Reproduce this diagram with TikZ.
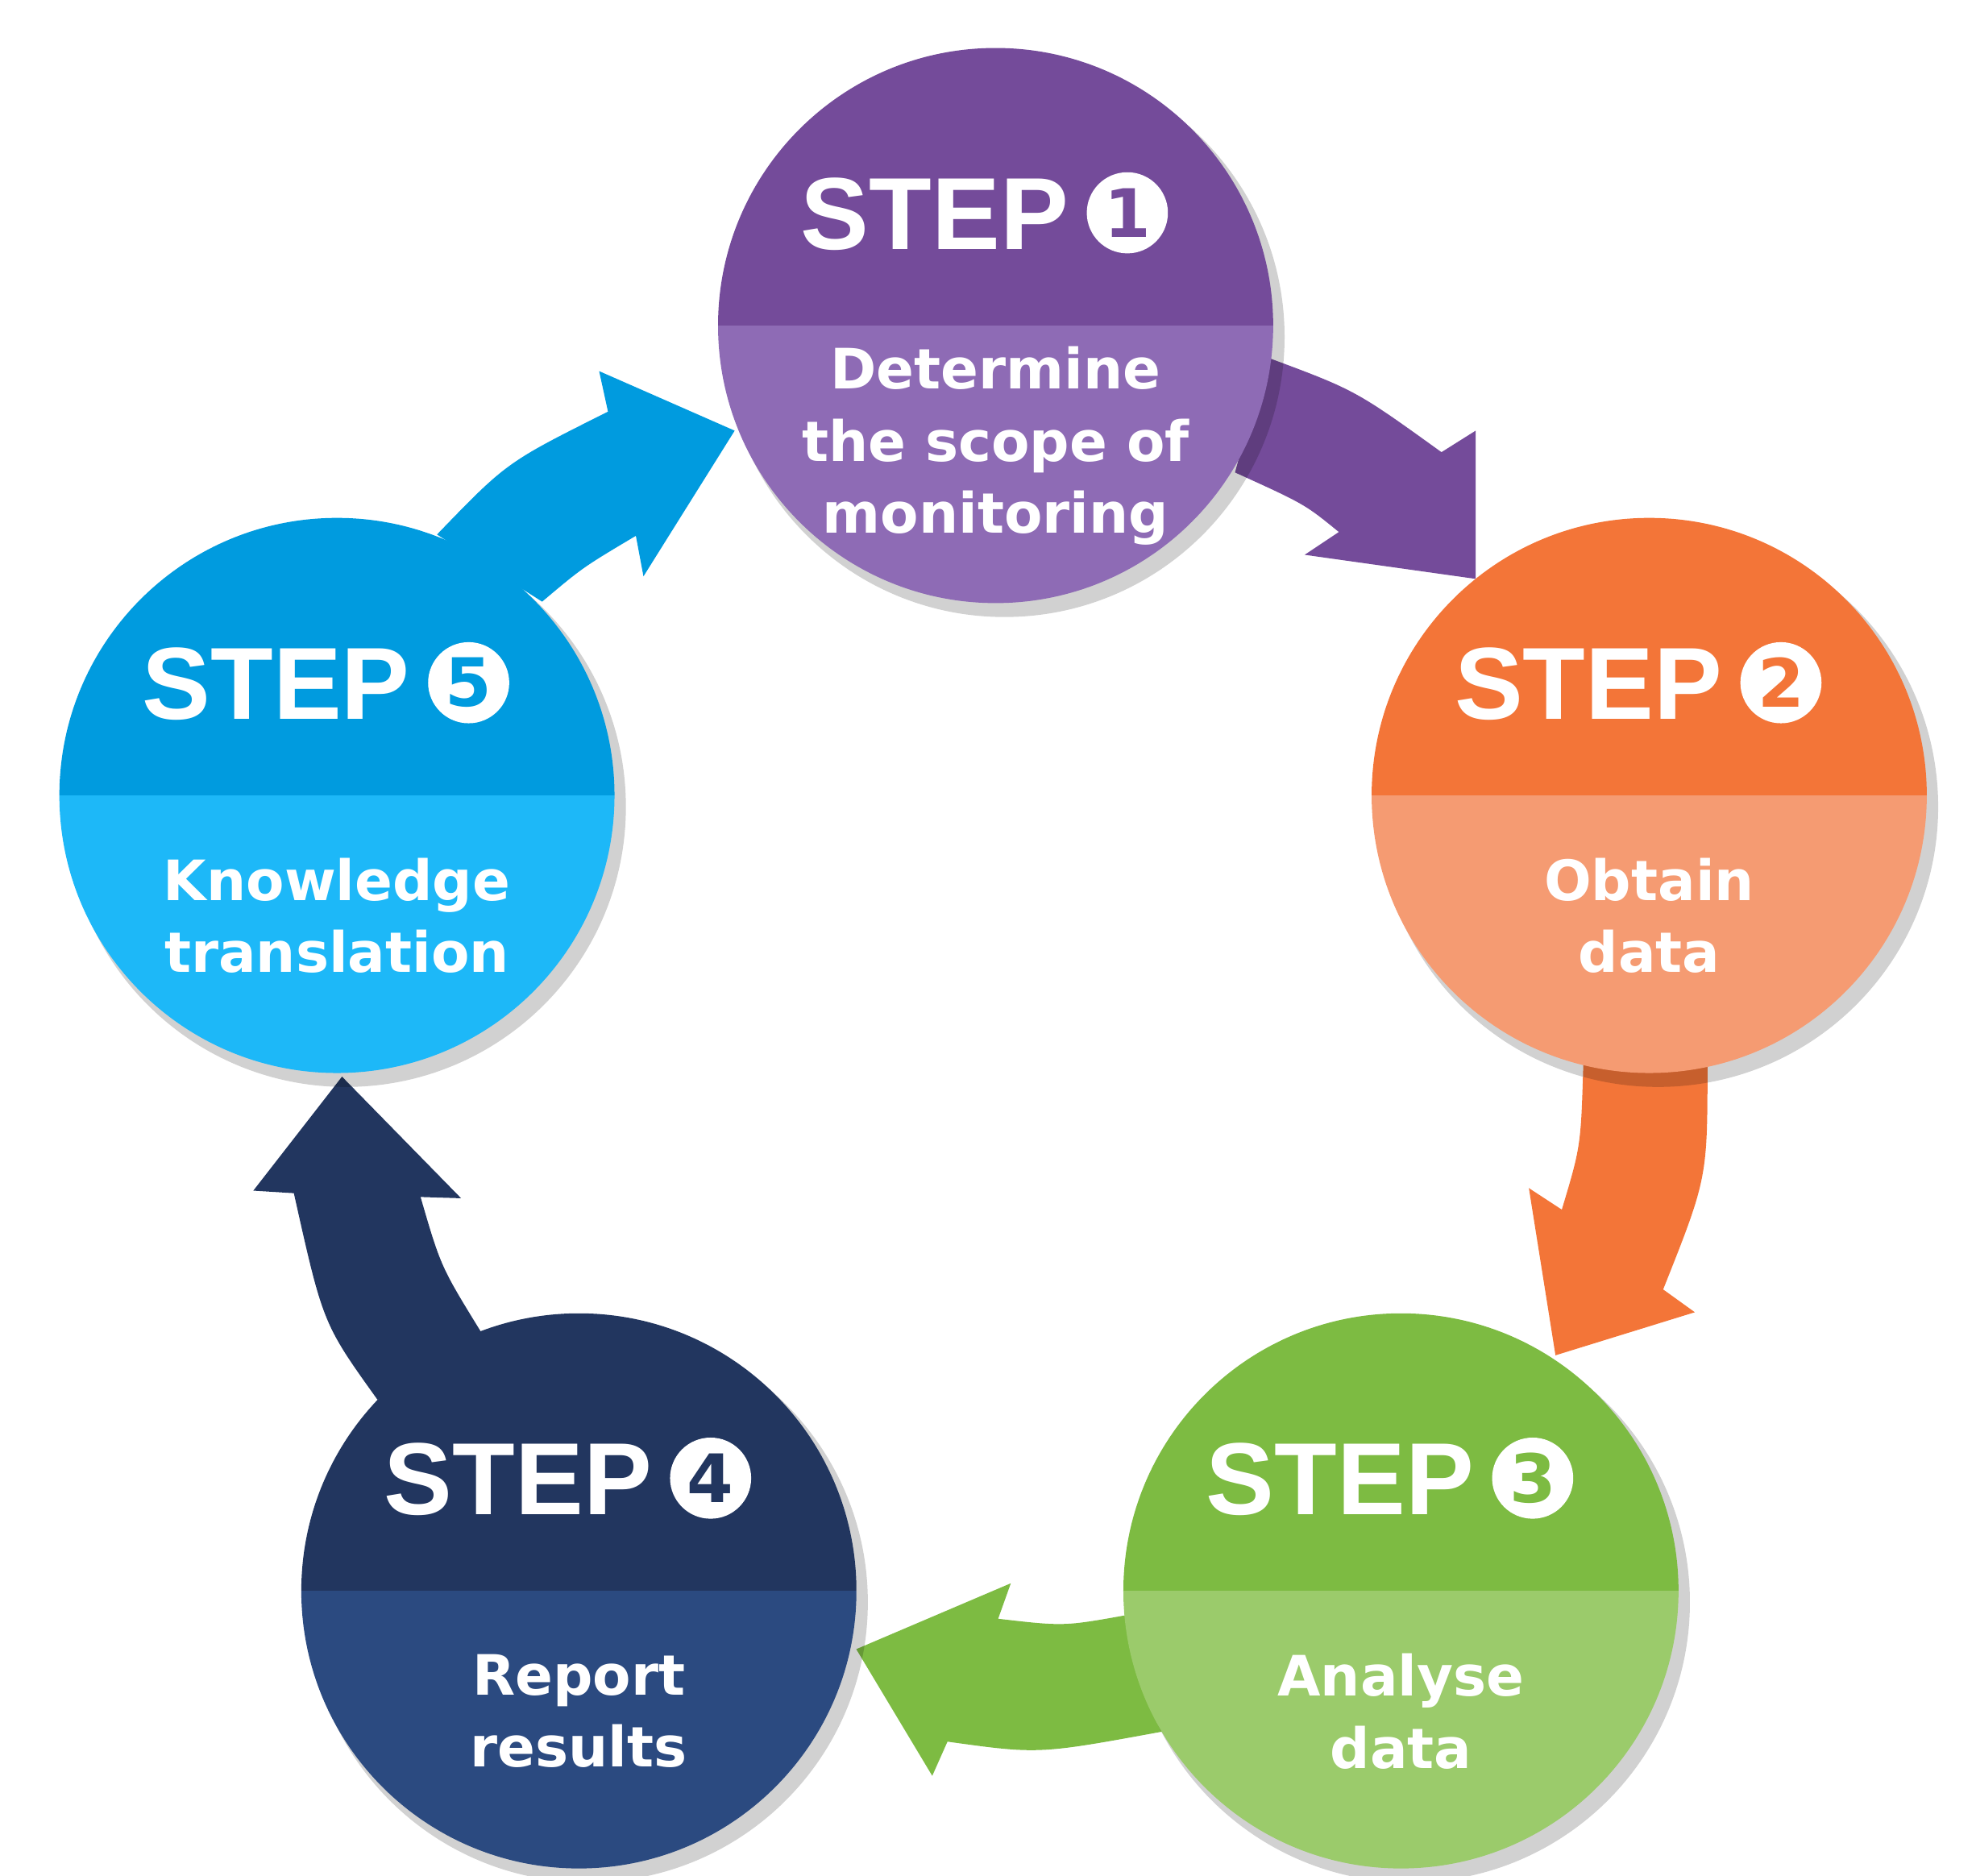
\documentclass[tikz,border=0pt]{standalone}
\usepackage{fontspec}
\setmainfont{DejaVu Sans}
\newfontfamily\stepfont{Liberation Sans}
\usetikzlibrary{shadows}
\definecolor{pA}{HTML}{744B9A}\definecolor{pB}{HTML}{8E6BB5}
\definecolor{oA}{HTML}{F37538}\definecolor{oB}{HTML}{F59B72}
\definecolor{gA}{HTML}{7DBB42}\definecolor{gB}{HTML}{9BCB6B}
\definecolor{nA}{HTML}{22365F}\definecolor{nB}{HTML}{2B4A80}
\definecolor{bA}{HTML}{009BDF}\definecolor{bB}{HTML}{1DB8F8}
\tikzset{
 steplbl/.style={text=white,font=\stepfont\fontsize{23}{23}\bfseries},
 numc/.style={circle,fill=white,minimum size=0.64cm,inner sep=0pt,font=\fontsize{15}{15}\bfseries},
 desc/.style={text=white,align=center,font=\fontsize{12.5}{16.2}\bfseries},
 arr/.style={draw=none}
}
\newcommand\stepc[7]{%
 \fill[black,opacity=0.18] ({#2+7},{#3+9}) circle[radius=2.21cm];
 \node[circle,minimum size=4.38cm,inner sep=0pt] (#1) at (#2,#3) {};
 \begin{scope}
 \clip (#2,#3) circle[radius=2.19cm];
 \fill[#4] ({#2-230},{#3-230}) rectangle ({#2+230},#3);
 \fill[#5] ({#2-230},#3) rectangle ({#2+230},{#3+230});
 \end{scope}
 \node[steplbl] (#1s) at ({#2-48},{#3-88}) {STEP};
 \node[numc,text=#4] (#1n) at ({#2+104},{#3-89}) {#6};
 \node[desc] (#1d) at (#2,{#3+95}) {#7};
}
\begin{document}
\begin{tikzpicture}[x=0.01cm,y=-0.01cm]
\useasboundingbox (0,0) rectangle (1560,1481);
% arrows
\fill[pA] (1000,282) .. controls (1070,308) .. (1138,357) -- (1165,340) -- (1165,457) -- (1030,438) -- (1057,420) .. controls (1030,398) .. (975,373) -- cycle;
\fill[oA] (1348,840) .. controls (1348,930) .. (1313,1018) -- (1338,1036) -- (1228,1070) -- (1207,938) -- (1233,955) .. controls (1248,905) .. (1250,840) -- cycle;
\fill[gA] (890,1275) .. controls (840,1284) .. (788,1278) -- (798,1250) -- (676,1302) -- (736,1402) -- (748,1375) .. controls (820,1385) .. (918,1367) -- cycle;
\fill[nA] (298,1105) .. controls (255,1045) .. (232,942) -- (200,940) -- (270,850) -- (364,946) -- (332,945) .. controls (348,1000) .. (380,1052) -- cycle;
\fill[bA] (345,422) .. controls (400,365) .. (480,325) -- (473,293) -- (580,340) -- (508,455) -- (502,423) .. controls (460,448) .. (428,475) -- cycle;
% circles
\stepc{s1}{786}{257}{pA}{pB}{1}{Determine\\the scope of\\monitoring}
\stepc{s2}{1302}{628}{oA}{oB}{2}{Obtain\\data}
\stepc{s3}{1106}{1256}{gA}{gB}{3}{Analyse\\data}
\stepc{s4}{457}{1256}{nA}{nB}{4}{Report\\results}
\stepc{s5}{266}{628}{bA}{bB}{5}{Knowledge\\translation}
\end{tikzpicture}
\end{document}
